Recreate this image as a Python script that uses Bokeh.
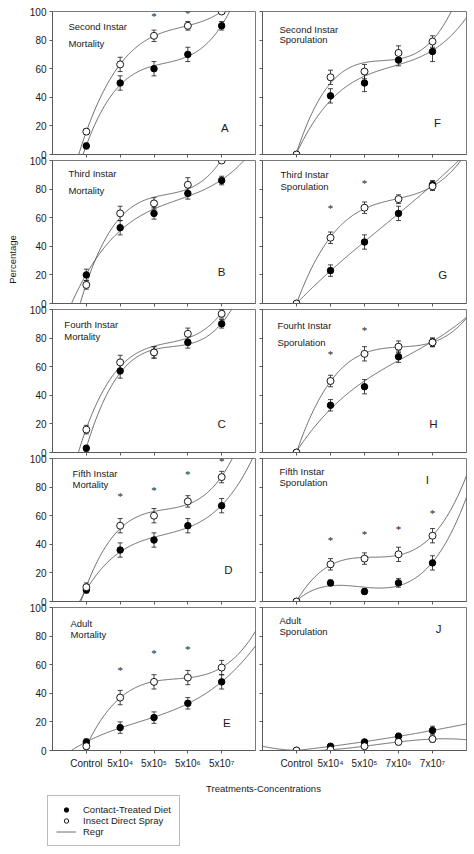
import numpy as np
from bokeh.plotting import figure
from bokeh.layouts import column, row
from bokeh.models import (
    ColumnDataSource, Whisker, TeeHead, Label, LabelSet,
    Range1d, FixedTicker, Legend, LegendItem,
)
from bokeh.embed import file_html
from bokeh.resources import INLINE

FONT = "Liberation Sans"
INK = "#1a1a1a"
GREY = "#7a7a7a"

# treatment positions and tick labels
X = [1, 2, 3, 4, 5]
Y_TICKS = [0, 20, 40, 60, 80, 100]
TICKS_LARVA = ["Control", "5x10⁴", "5x10⁵", "5x10⁶", "5x10⁷"]
TICKS_ADULT = ["Control", "5x10⁴", "5x10⁵", "7x10⁶", "7x10⁷"]

# mortality (%) - contact-treated diet / insect direct spray, with error
A_diet, A_diet_err = [6, 50, 60, 70, 90], [2, 5, 5, 5, 3]
A_spray, A_spray_err = [16, 63, 83, 90, 100], [2, 5, 4, 3, 0]
A_star_x, A_star_y = [3, 4], [97, 99]

B_diet, B_diet_err = [20, 53, 63, 77, 86], [4, 5, 4, 4, 3]
B_spray, B_spray_err = [13, 63, 70, 83, 100], [3, 5, 4, 5, 0]
B_star_x, B_star_y = [], []

C_diet, C_diet_err = [3, 57, 70, 77, 90], [2, 5, 4, 4, 3]
C_spray, C_spray_err = [16, 63, 70, 83, 97], [3, 5, 4, 4, 3]
C_star_x, C_star_y = [], []

D_diet, D_diet_err = [8, 36, 43, 53, 67], [2, 5, 5, 5, 5]
D_spray, D_spray_err = [10, 53, 60, 70, 87], [3, 5, 5, 4, 4]
D_star_x, D_star_y = [2, 3, 4, 5], [74, 78, 89, 98]

E_diet, E_diet_err = [6, 16, 23, 33, 48], [2, 4, 4, 4, 5]
E_spray, E_spray_err = [3, 37, 48, 51, 58], [2, 5, 5, 5, 5]
E_star_x, E_star_y = [2, 3, 4], [56, 68, 71]

# sporulation (%)
F_diet, F_diet_err = [0, 41, 50, 66, 72], [0, 5, 6, 4, 7]
F_spray, F_spray_err = [0, 54, 58, 71, 79], [0, 5, 5, 5, 4]
F_star_x, F_star_y = [], []

G_diet, G_diet_err = [0, 23, 43, 63, 83], [0, 4, 5, 5, 3]
G_spray, G_spray_err = [0, 46, 67, 73, 82], [0, 4, 4, 3, 3]
G_star_x, G_star_y = [2, 3], [67, 84]

H_diet, H_diet_err = [0, 33, 46, 67, 77], [0, 4, 5, 4, 3]
H_spray, H_spray_err = [0, 50, 69, 74, 77], [0, 4, 5, 4, 3]
H_star_x, H_star_y = [2, 3], [69, 86]

I_diet, I_diet_err = [0, 13, 7, 13, 27], [0, 2, 2, 3, 5]
I_spray, I_spray_err = [0, 26, 30, 33, 46], [0, 4, 4, 5, 5]
I_star_x, I_star_y = [2, 3, 4, 5], [43, 47, 51, 62]

J_diet, J_diet_err = [0, 3, 6, 10, 14], [0, 1, 1, 2, 3]
J_spray, J_spray_err = [0, 0.5, 3, 6, 8], [0, 1, 1, 2, 2]
J_star_x, J_star_y = [], []


def _panel(diet, diet_err, spray, spray_err, star_x, star_y,
           title, tpos, letter, lpos, left, first=False, ticks=None):
    # panels overlap by their borders (negative top margin) so that the
    # "0" and "100" tick labels of neighbours both stay whole
    p = figure(
        frame_width=203 if left else 204, frame_height=143,
        x_range=Range1d(0, 6), y_range=Range1d(0, 100),
        min_border_left=28 if left else 5, min_border_right=2 if left else 8,
        min_border_top=11 if first else 6,
        min_border_bottom=20 if ticks else 6,
        margin=(0, 0, 0, 0) if first else (-6, 0, 0, 0),
        background_fill_color="white", border_fill_alpha=0,
        outline_line_color=GREY, output_backend="svg", toolbar_location=None,
    )
    p.grid.grid_line_color = None
    p.axis.axis_line_color = "#5a5a5a"
    p.axis.major_tick_line_color = "#5a5a5a"
    p.axis.minor_tick_line_color = None
    p.axis.major_tick_in = 0
    p.axis.major_tick_out = 3
    p.axis.major_label_text_font = FONT
    p.axis.major_label_text_font_size = "10px"
    p.axis.major_label_text_color = INK

    p.xaxis.ticker = FixedTicker(ticks=X)
    if ticks:
        p.xaxis.major_label_overrides = dict(zip(X, ticks))
        p.xaxis.major_label_standoff = 4
    else:
        p.xaxis.major_label_text_color = None
        p.xaxis.major_label_text_font_size = "0px"
        p.xaxis.major_label_standoff = 0
    p.yaxis.ticker = FixedTicker(ticks=Y_TICKS)
    if left:
        p.yaxis.major_label_standoff = 3
    else:
        p.yaxis.major_label_text_color = None
        p.yaxis.major_label_text_font_size = "0px"
        p.yaxis.major_label_standoff = 0

    # Regr: cubic regression through the treatment means
    xs = np.linspace(0, 6, 241)
    for vals in (diet, spray):
        coef = np.polyfit(X, vals, 3)
        p.line(xs, np.polyval(coef, xs), line_color="#4a4a4a", line_width=0.8)

    for vals, err in ((diet, diet_err), (spray, spray_err)):
        src = ColumnDataSource(dict(
            x=X,
            lo=[v - e for v, e in zip(vals, err)],
            hi=[v + e for v, e in zip(vals, err)],
        ))
        p.add_layout(Whisker(
            base="x", lower="lo", upper="hi", source=src, dimension="height",
            line_color=INK, line_width=0.8,
            lower_head=TeeHead(size=5, line_color=INK, line_width=0.8),
            upper_head=TeeHead(size=5, line_color=INK, line_width=0.8),
        ))

    p.scatter(X, diet, size=6.5, fill_color="black", line_color="black")
    p.scatter(X, spray, size=7, fill_color="white", line_color="black",
              line_width=0.9)

    if star_x:
        p.add_layout(LabelSet(
            x="x", y="y", text="t",
            source=ColumnDataSource(dict(x=star_x, y=star_y,
                                         t=["*"] * len(star_x))),
            text_font=FONT, text_font_size="11px", text_color=INK,
            text_align="center", text_baseline="middle",
        ))

    tx, ty1, ty2 = tpos
    for txt, ty in ((title[0], ty1), (title[1], ty2)):
        p.add_layout(Label(
            x=tx, y=ty, text=txt, text_font=FONT, text_font_size="9.5px",
            text_color=INK, text_baseline="middle",
        ))
    p.add_layout(Label(
        x=lpos[0], y=lpos[1], text=letter, text_font=FONT,
        text_font_size="11.5px", text_color=INK,
        text_align="center", text_baseline="middle",
    ))
    return p


pA = _panel(A_diet, A_diet_err, A_spray, A_spray_err, A_star_x, A_star_y,
            ("Second Instar", "Mortality"), (0.47, 89.5, 77.8), "A", (5.09, 18.5),
            True, first=True)
pB = _panel(B_diet, B_diet_err, B_spray, B_spray_err, B_star_x, B_star_y,
            ("Third Instar", "Mortality"), (0.47, 90.9, 79), "B", (5.0, 22), True)
pC = _panel(C_diet, C_diet_err, C_spray, C_spray_err, C_star_x, C_star_y,
            ("Fourth Instar", "Mortality"), (0.35, 89.5, 81.1), "C", (5.0, 20), True)
pD = _panel(D_diet, D_diet_err, D_spray, D_spray_err, D_star_x, D_star_y,
            ("Fifth Instar", "Mortality"), (0.59, 89.5, 81.8), "D", (5.2, 22), True)
pE = _panel(E_diet, E_diet_err, E_spray, E_spray_err, E_star_x, E_star_y,
            ("Adult", "Mortality"), (0.53, 88.8, 81.1), "E", (5.15, 19), True,
            ticks=TICKS_LARVA)

pF = _panel(F_diet, F_diet_err, F_spray, F_spray_err, F_star_x, F_star_y,
            ("Second Instar", "Sporulation"), (0.5, 87.4, 80.4), "F", (5.15, 22),
            False, first=True)
pG = _panel(G_diet, G_diet_err, G_spray, G_spray_err, G_star_x, G_star_y,
            ("Third Instar", "Sporulation"), (0.53, 90.2, 81.8), "G", (5.3, 20), False)
pH = _panel(H_diet, H_diet_err, H_spray, H_spray_err, H_star_x, H_star_y,
            ("Fourht Instar", "Sporulation"), (0.44, 88.8, 76.9), "H", (5.03, 20), False)
pI = _panel(I_diet, I_diet_err, I_spray, I_spray_err, I_star_x, I_star_y,
            ("Fifth Instar", "Sporulation"), (0.5, 90.9, 83.2), "I", (4.85, 85), False)
pJ = _panel(J_diet, J_diet_err, J_spray, J_spray_err, J_star_x, J_star_y,
            ("Adult", "Sporulation"), (0.5, 90.9, 83.2), "J", (5.18, 85), False,
            ticks=TICKS_ADULT)

# shared y label in its own narrow strip
ylab = figure(
    width=24, height=400, x_range=Range1d(0, 24), y_range=Range1d(0, 400),
    x_axis_type=None, y_axis_type=None, min_border=0,
    outline_line_color=None, output_backend="svg", toolbar_location=None,
)
ylab.grid.visible = False
ylab.add_layout(Label(
    x=12, y=141, text="Percentage", angle=np.pi / 2,
    text_font=FONT, text_font_size="9.5px", text_color=INK,
    text_align="center", text_baseline="middle",
))

# footer: x label and legend
foot = figure(
    width=474, height=84, x_range=Range1d(0, 474), y_range=Range1d(0, 84),
    x_axis_type=None, y_axis_type=None, min_border=0,
    outline_line_color=None, output_backend="svg", toolbar_location=None,
)
foot.grid.visible = False
foot.add_layout(Label(
    x=263, y=67, text="Treatments-Concentrations", text_font=FONT,
    text_font_size="9.5px", text_color=INK,
    text_align="center", text_baseline="middle",
))
# off-canvas stand-ins so the legend has glyphs to draw
r_diet = foot.scatter([-50], [-50], size=6.5, fill_color="black",
                      line_color="black")
r_spray = foot.scatter([-50], [-50], size=7, fill_color="white",
                       line_color="black", line_width=0.9)
r_regr = foot.line([-60, -50], [-50, -50], line_color="#4a4a4a", line_width=0.8)
legend = Legend(
    items=[
        LegendItem(label="Contact-Treated Diet", renderers=[r_diet]),
        LegendItem(label="Insect Direct Spray", renderers=[r_spray]),
        LegendItem(label="Regr", renderers=[r_regr]),
    ],
    location=(47, 9), margin=0, padding=8, spacing=0,
    glyph_width=20, glyph_height=11, label_height=11, label_standoff=7,
    label_text_font=FONT, label_text_font_size="9.5px", label_text_color=INK,
    border_line_color=GREY, border_line_width=1, background_fill_color="white",
)
foot.add_layout(legend)

p = column(
    row(ylab, column(pA, pB, pC, pD, pE), column(pF, pG, pH, pI, pJ)),
    foot,
)

open("out.html", "w").write(file_html(p, INLINE))
